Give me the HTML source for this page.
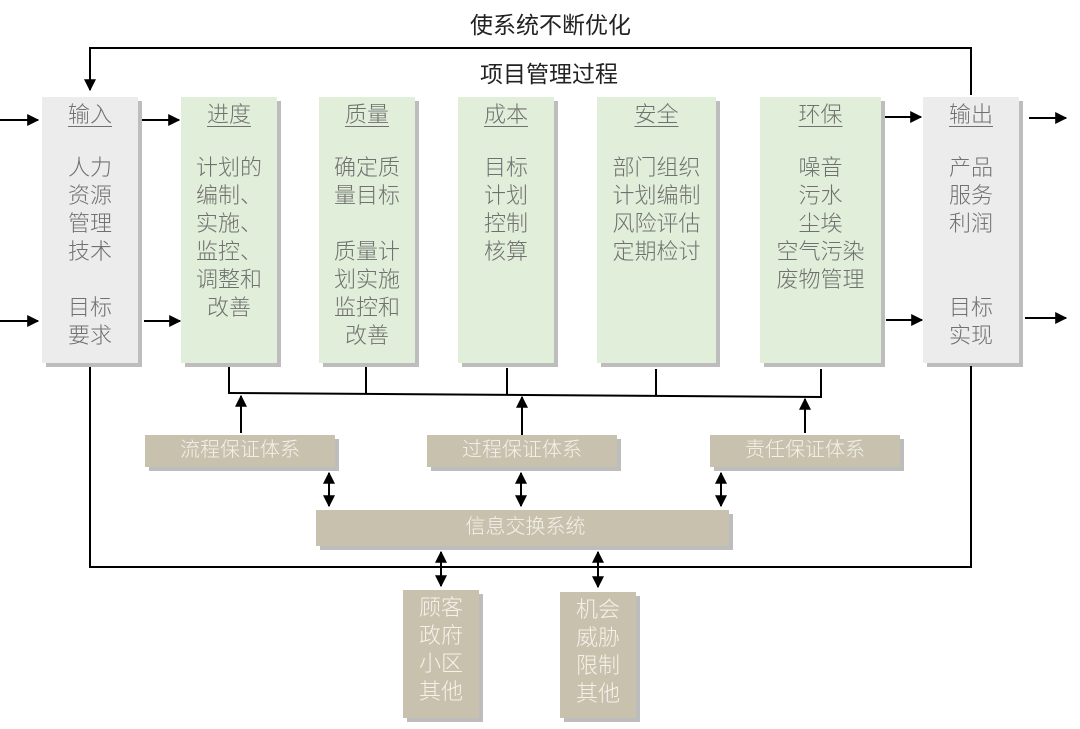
<!DOCTYPE html>
<html><head><meta charset="utf-8"><style>
body{margin:0;width:1080px;height:729px;background:#fff;position:relative;overflow:hidden;font-family:"Liberation Sans","Noto Sans CJK SC",sans-serif}
.b{position:absolute;box-shadow:4px 4px 0 #bdbdbd;color:#707070;font-size:22px;line-height:28px;text-align:center;font-weight:300}
.g{background:#e1eed9}.gr{background:#ececec}
.b .t{position:absolute;left:0;right:0;top:4px;text-decoration:underline;text-underline-offset:4px;text-decoration-thickness:1px}
.b .c{position:absolute;left:0;right:0;top:57px}
.k{position:absolute;background:#c8c1ad;color:#f4f2ea;font-size:20px;text-align:center;box-shadow:4px 4px 0 #bdbdbd;font-weight:300}
.lbl{position:absolute;font-size:23px;color:#222}
svg{position:absolute;left:0;top:0}
</style></head><body>
<div class="lbl" style="left:470px;top:6px">使系统不断优化</div>
<div class="lbl" style="left:480px;top:55px">项目管理过程</div>

<div class="b gr" style="left:42px;top:97px;width:96px;height:266px"><div class="t">输入</div><div class="c">人力<br>资源<br>管理<br>技术<br><br>目标<br>要求</div></div>
<div class="b g" style="left:181px;top:97px;width:96px;height:266px"><div class="t">进度</div><div class="c">计划的<br>编制、<br>实施、<br>监控、<br>调整和<br>改善</div></div>
<div class="b g" style="left:319px;top:97px;width:96px;height:266px"><div class="t">质量</div><div class="c">确定质<br>量目标<br><br>质量计<br>划实施<br>监控和<br>改善</div></div>
<div class="b g" style="left:458px;top:97px;width:96px;height:266px"><div class="t">成本</div><div class="c">目标<br>计划<br>控制<br>核算</div></div>
<div class="b g" style="left:597px;top:97px;width:119px;height:266px"><div class="t">安全</div><div class="c">部门组织<br>计划编制<br>风险评估<br>定期检讨</div></div>
<div class="b g" style="left:760px;top:97px;width:121px;height:266px"><div class="t">环保</div><div class="c">噪音<br>污水<br>尘埃<br>空气污染<br>废物管理</div></div>
<div class="b gr" style="left:923px;top:97px;width:96px;height:266px"><div class="t">输出</div><div class="c">产品<br>服务<br>利润<br><br><br>目标<br>实现</div></div>

<div class="k" style="left:145px;top:435px;width:190px;height:32px;line-height:30px">流程保证体系</div>
<div class="k" style="left:427px;top:435px;width:190px;height:32px;line-height:30px">过程保证体系</div>
<div class="k" style="left:710px;top:435px;width:190px;height:32px;line-height:30px">责任保证体系</div>
<div class="k" style="left:316px;top:510px;width:413px;height:36px;line-height:34px"><span style="position:relative;left:3px">信息交换系统</span></div>
<div class="k" style="left:403px;top:590px;width:76px;height:128px;font-size:22px;line-height:28px;padding-top:4px;box-sizing:border-box">顾客<br>政府<br>小区<br>其他</div>
<div class="k" style="left:560px;top:592px;width:76px;height:126px;font-size:22px;line-height:28px;padding-top:4px;box-sizing:border-box">机会<br>威胁<br>限制<br>其他</div>

<svg width="1080" height="729" viewBox="0 0 1080 729">
<defs><marker id="a" viewBox="0 0 10 10" refX="9" refY="5" markerWidth="6" markerHeight="6" orient="auto-start-reverse"><path d="M0,0L10,5L0,10z" fill="#000"/></marker></defs>
<g stroke="#000" stroke-width="2" fill="none">
<path d="M971,95V48H90V90" marker-end="url(#a)"/>
<path d="M0,120H38" marker-end="url(#a)"/>
<path d="M0,321H38" marker-end="url(#a)"/>
<path d="M142,120H179" marker-end="url(#a)"/>
<path d="M144,321H180" marker-end="url(#a)"/>
<path d="M885,117H921" marker-end="url(#a)"/>
<path d="M886,320H922" marker-end="url(#a)"/>
<path d="M1029,118H1066" marker-end="url(#a)"/>
<path d="M1025,318H1066" marker-end="url(#a)"/>
<path d="M228,393L822,397"/>
<path d="M229,367V393M366,367V394M507,368V395M656,369V396M821,369V397"/>
<path d="M241,433V396" marker-end="url(#a)"/>
<path d="M522,435V397" marker-end="url(#a)"/>
<path d="M805,433V399" marker-end="url(#a)"/>
<path d="M329,473V506" marker-start="url(#a)" marker-end="url(#a)"/>
<path d="M521,473V506" marker-start="url(#a)" marker-end="url(#a)"/>
<path d="M721,473V506" marker-start="url(#a)" marker-end="url(#a)"/>
<path d="M441,552V586" marker-start="url(#a)" marker-end="url(#a)"/>
<path d="M598,552V587" marker-start="url(#a)" marker-end="url(#a)"/>
<path d="M90,367V567H971V366"/>
</g></svg>
</body></html>
